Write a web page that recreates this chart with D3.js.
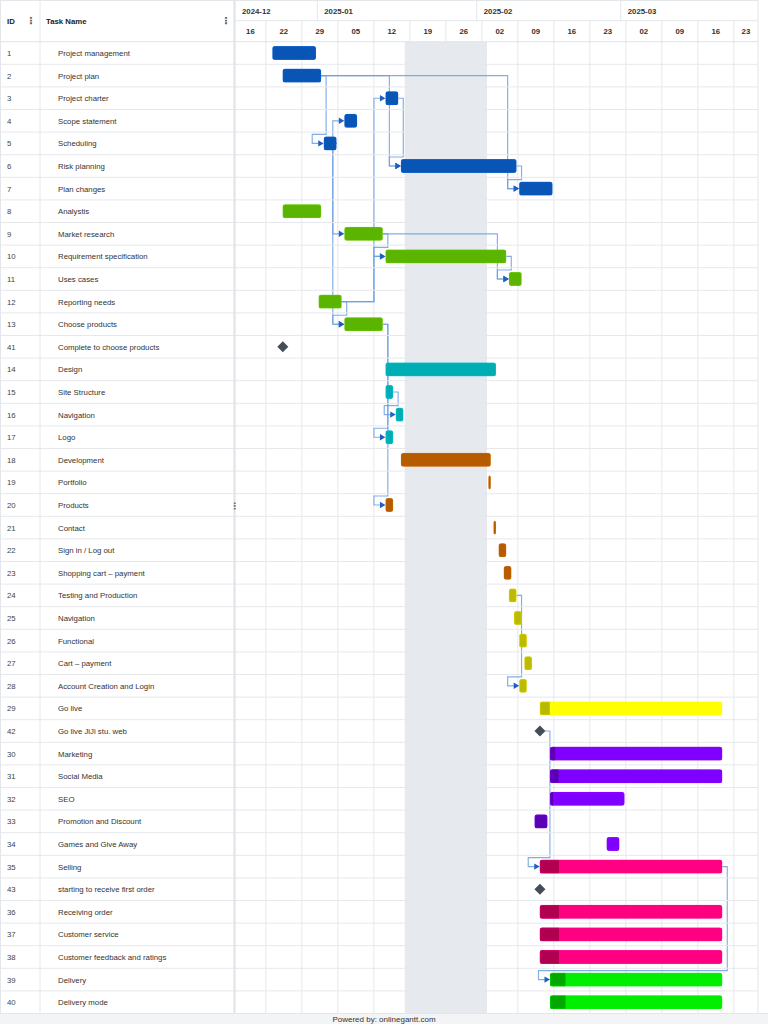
<!DOCTYPE html>
<html><head><meta charset="utf-8">
<script src="https://cdn.jsdelivr.net/npm/d3@7"></script>
<style>
body{margin:0;background:#fff}
svg{display:block;font-family:"Liberation Sans",Arial,sans-serif}
</style>
</head><body>
<svg id="chart" width="768" height="1024"></svg>
<script>
// ---------- data ----------
const taskIds = [1,2,3,4,5,6,7,8,9,10,11,12,13,41,14,15,16,17,18,19,20,21,22,23,24,25,26,27,28,29,42,30,31,32,33,34,35,43,36,37,38,39,40];
const taskNames = ["Project management","Project plan","Project charter","Scope statement","Scheduling","Risk planning","Plan changes","Analystis","Market research","Requirement specification","Uses cases","Reporting needs","Choose products","Complete to choose products","Design","Site Structure","Navigation","Logo","Development","Portfolio","Products","Contact","Sign in / Log out","Shopping cart – payment","Testing and Production","Navigation","Functional","Cart – payment","Account Creation and Login","Go live","Go live JiJi stu. web","Marketing","Social Media","SEO","Promotion and Discount","Games and Give Away","Selling","starting to receive first order","Receiving order","Customer service","Customer feedback and ratings","Delivery","Delivery mode"];
const startDates = ["2024-12-23","2024-12-25","2025-01-14","2025-01-06","2025-01-02","2025-01-17","2025-02-09","2024-12-25","2025-01-06","2025-01-14","2025-02-07","2025-01-01","2025-01-06","2024-12-25","2025-01-14","2025-01-14","2025-01-16","2025-01-14","2025-01-17","2025-02-03","2025-01-14","2025-02-04","2025-02-05","2025-02-06","2025-02-07","2025-02-08","2025-02-09","2025-02-10","2025-02-09","2025-02-13","2025-02-13","2025-02-15","2025-02-15","2025-02-15","2025-02-12","2025-02-26","2025-02-13","2025-02-13","2025-02-13","2025-02-13","2025-02-13","2025-02-15","2025-02-15"];
// inclusive end dates; null = milestone
const endDates = ["2024-12-31","2025-01-01","2025-01-16","2025-01-08","2025-01-04","2025-02-08","2025-02-15","2025-01-01","2025-01-13","2025-02-06","2025-02-09","2025-01-05","2025-01-13",null,"2025-02-04","2025-01-15","2025-01-17","2025-01-15","2025-02-03","2025-02-03","2025-01-15","2025-02-04","2025-02-06","2025-02-07","2025-02-08","2025-02-09","2025-02-10","2025-02-11","2025-02-10","2025-03-20",null,"2025-03-20","2025-03-20","2025-03-01","2025-02-14","2025-02-28","2025-03-20",null,"2025-03-20","2025-03-20","2025-03-20","2025-03-20","2025-03-20"];
const progressPct = [0,0,0,0,0,0,0,0,0,0,0,0,0,0,0,0,0,0,0,0,0,0,0,0,0,0,0,0,0,5.5,0,3,5,4,100,0,10.5,0,10.5,10.5,10.5,9,9];
const barColors = ["#0855b6","#0855b6","#0855b6","#0855b6","#0855b6","#0855b6","#0855b6","#5ab400","#5ab400","#5ab400","#5ab400","#5ab400","#5ab400","#454d58","#00adb5","#00adb5","#00adb5","#00adb5","#b65c00","#b65c00","#b65c00","#b65c00","#b65c00","#b65c00","#bdbb00","#bdbb00","#bdbb00","#bdbb00","#bdbb00","#ffff00","#454d58","#8000ff","#8000ff","#8000ff","#8000ff","#8000ff","#ff0080","#454d58","#ff0080","#ff0080","#ff0080","#00ee00","#00ee00"];
const progressColors = ["","","","","","","","","","","","","","","","","","","","","","","","","","","","","","#b9b800","","#5a00b6","#5a00b6","#5a00b6","#5a00b6","","#b0004f","","#b0004f","#b0004f","#b0004f","#00a800","#00a800"];
// dependencies: [predecessor id, successor id]
const linkFrom = [2,2,2,3,5,5,5,6,9,9,10,12,12,12,13,13,15,24,42,35];
const linkTo   = [5,6,7,6,4,9,13,7,10,11,11,3,10,13,17,20,16,28,35,39];
const monthLabels = ["2024-12","2025-01","2025-02","2025-03"];
const weekLabels = ["16","22","29","05","12","19","26","02","09","16","23","02","09","16","23"];
const shadeStart = "2025-01-18", shadeEnd = "2025-02-03";
const viewStart = "2024-12-16", viewEnd = "2025-03-28";

// ---------- layout ----------
const W = 768, H = 1024;
const leftW = 235, idColW = 40, headerH = 41.7, monthH = 20.7, tlRight = 758;
const rowsBottom = 1013.5;
const parse = d3.utcParse("%Y-%m-%d");
const dayMs = 864e5;

const x = d3.scaleUtc().domain([parse(viewStart), parse(viewEnd)]).range([leftW, leftW + 102 * 36 / 7]);
const y = d3.scaleBand().domain(d3.range(taskIds.length)).range([headerH, rowsBottom]);
const yc = i => y(i) + y.bandwidth() / 2;

const svg = d3.select("#chart");
svg.append("rect").attr("width", W).attr("height", H).attr("fill", "#fff");

const tasks = taskIds.map((id, i) => {
  const s = parse(startDates[i]);
  const ms = endDates[i] === null;
  const eEx = ms ? s : d3.utcDay.offset(parse(endDates[i]), 1);
  return {i, id, name: taskNames[i], s, eEx, ms, color: barColors[i], pc: progressColors[i], p: progressPct[i]};
});
const inset = 1.3;
const barL = t => t.ms ? x(t.s) + 1.5 - 5 : x(t.s) + inset;
const barR = t => t.ms ? x(t.s) + 1.5 + 5 : x(t.eEx) - inset;

const defs = svg.append("defs");
defs.append("clipPath").attr("id", "tlclip").append("rect")
  .attr("x", leftW).attr("y", 0).attr("width", tlRight - leftW).attr("height", H);

// ---------- timeline body ----------
const tl = svg.append("g").attr("clip-path", "url(#tlclip)");
tl.append("rect").attr("x", x(parse(shadeStart))).attr("y", headerH)
  .attr("width", x(parse(shadeEnd)) - x(parse(shadeStart))).attr("height", rowsBottom - headerH)
  .attr("fill", "#e6e9ed");

const dStart = x.domain()[0], dEnd = x.domain()[1];
const weekBounds = [dStart, ...d3.utcSunday.range(d3.utcDay.offset(dStart, 1), dEnd)];
const monthBounds = [dStart, ...d3.utcMonth.range(d3.utcDay.offset(dStart, 1), dEnd)];

tl.selectAll("line.wk").data(weekBounds.slice(1)).join("line")
  .attr("x1", d => x(d)).attr("x2", d => x(d)).attr("y1", monthH).attr("y2", rowsBottom)
  .attr("stroke", "#e7e9ed").attr("stroke-width", 1);

svg.selectAll("line.row").data(d3.range(taskIds.length)).join("line")
  .attr("x1", 0).attr("x2", tlRight).attr("y1", i => y(i) + y.bandwidth()).attr("y2", i => y(i) + y.bandwidth())
  .attr("stroke", "#e6e8ec").attr("stroke-width", 1);

// ---------- links ----------
const byId = new Map(tasks.map(t => [t.id, t]));
const linkG = tl.append("g");
linkFrom.forEach((fid, k) => {
  const s = byId.get(fid), t = byId.get(linkTo[k]);
  const ys = yc(s.i), yt = yc(t.i);
  const sx = barR(s), tx = barL(t);
  const turnX = tx - 11.5;
  const gap = (t.s - s.eEx) / dayMs;
  let p;
  if (gap >= 1) {
    p = `M${sx},${ys}H${turnX}V${yt}H${tx - 5}`;
  } else {
    const dir = yt > ys ? 1 : -1;
    p = `M${sx},${ys}H${sx + 5}V${yt - 9 * dir}H${turnX}V${yt}H${tx - 5}`;
  }
  linkG.append("path").attr("d", p).attr("fill", "none")
    .attr("stroke", "#6d9fe0").attr("stroke-opacity", 0.85).attr("stroke-width", 1.15);
  linkG.append("path").attr("d", `M${tx},${yt}L${tx - 5.5},${yt - 3.2}L${tx - 5.5},${yt + 3.2}Z`)
    .attr("fill", "#1f5fc4");
});

// ---------- bars ----------
const barH = 13.8;
const barG = tl.append("g");
tasks.forEach(t => {
  const cy = yc(t.i);
  if (t.ms) {
    const cx = x(t.s) + 1.5;
    barG.append("path").attr("d", `M${cx},${cy - 5.5}L${cx + 5.5},${cy}L${cx},${cy + 5.5}L${cx - 5.5},${cy}Z`)
      .attr("fill", t.color);
    return;
  }
  const bx = barL(t), bw = barR(t) - barL(t);
  const cid = "bc" + t.i;
  defs.append("clipPath").attr("id", cid).append("rect")
    .attr("x", bx).attr("y", cy - barH / 2).attr("width", bw).attr("height", barH).attr("rx", 2.6);
  const g = barG.append("g").attr("clip-path", `url(#${cid})`);
  g.append("rect").attr("x", bx).attr("y", cy - barH / 2).attr("width", bw).attr("height", barH)
    .attr("fill", t.color);
  if (t.p > 0) {
    g.append("rect").attr("x", bx).attr("y", cy - barH / 2).attr("width", bw * t.p / 100).attr("height", barH)
      .attr("fill", t.pc);
  }
  barG.append("rect").attr("x", bx + 0.4).attr("y", cy - barH / 2 + 0.4).attr("width", Math.max(0, bw - 0.8)).attr("height", barH - 0.8)
    .attr("rx", 2.4).attr("fill", "none").attr("stroke", d3.color(t.color).brighter(0.6)).attr("stroke-opacity", 0.45).attr("stroke-width", 0.8);
});

// ---------- timeline header ----------
const hd = svg.append("g").attr("clip-path", "url(#tlclip)");
hd.append("rect").attr("x", leftW).attr("y", 0).attr("width", tlRight - leftW).attr("height", headerH).attr("fill", "#fff");
hd.append("line").attr("x1", leftW).attr("x2", tlRight).attr("y1", monthH).attr("y2", monthH).attr("stroke", "#e3e6ea");
hd.selectAll("line.mb").data(monthBounds.slice(1)).join("line")
  .attr("x1", d => x(d)).attr("x2", d => x(d)).attr("y1", 0).attr("y2", monthH).attr("stroke", "#e3e6ea");
hd.selectAll("line.wb").data(weekBounds.slice(1)).join("line")
  .attr("x1", d => x(d)).attr("x2", d => x(d)).attr("y1", monthH).attr("y2", headerH).attr("stroke", "#e3e6ea");
hd.selectAll("text.ml").data(monthBounds).join("text")
  .attr("x", d => x(d) + 7).attr("y", 14.2).text((d, i) => monthLabels[i])
  .attr("font-size", 7.8).attr("font-weight", 700).attr("fill", "#333");
hd.selectAll("text.wl").data(weekBounds).join("text")
  .attr("x", (d, i) => (x(d) + Math.min(tlRight, x(weekBounds[i + 1] || dEnd))) / 2).attr("y", 33.6)
  .attr("text-anchor", "middle").text((d, i) => weekLabels[i])
  .attr("font-size", 7.8).attr("font-weight", 700).attr("fill", "#333");

svg.append("line").attr("x1", 0).attr("x2", tlRight).attr("y1", headerH).attr("y2", headerH).attr("stroke", "#e0e3e7");
svg.append("line").attr("x1", 0).attr("x2", tlRight).attr("y1", 0.5).attr("y2", 0.5).attr("stroke", "#e3e6ea");
svg.append("line").attr("x1", tlRight).attr("x2", tlRight).attr("y1", 0).attr("y2", rowsBottom).attr("stroke", "#e3e6ea");

// ---------- left grid ----------
const lg = svg.append("g");
lg.append("line").attr("x1", 0.5).attr("x2", 0.5).attr("y1", 0).attr("y2", rowsBottom).attr("stroke", "#e3e6ea");
lg.append("line").attr("x1", idColW).attr("x2", idColW).attr("y1", 0).attr("y2", rowsBottom).attr("stroke", "#e6e8ec");
lg.append("rect").attr("x", leftW - 1.5).attr("y", 0).attr("width", 2).attr("height", rowsBottom).attr("fill", "#dfe2e7");
lg.append("text").attr("x", 7).attr("y", 23.8).text("ID").attr("font-size", 7.8).attr("font-weight", 700).attr("fill", "#222");
lg.append("text").attr("x", 46).attr("y", 23.8).text("Task Name").attr("font-size", 7.8).attr("font-weight", 700).attr("fill", "#222");
[31, 226].forEach(xx => lg.append("text").attr("x", xx).attr("y", 23.5).attr("text-anchor", "middle")
  .text("⋮").attr("font-size", 10).attr("font-weight", 700).attr("fill", "#555").attr("font-family", "DejaVu Sans"));
lg.append("text").attr("x", leftW - 0.5).attr("y", 508.5).attr("text-anchor", "middle")
  .text("⋮").attr("font-size", 9).attr("font-weight", 700).attr("fill", "#666").attr("font-family", "DejaVu Sans");
lg.selectAll("text.id").data(tasks).join("text")
  .attr("x", 7).attr("y", t => yc(t.i) + 2.9).text(t => t.id)
  .attr("font-size", 7.8).attr("fill", "#444");
lg.selectAll("text.nm").data(tasks).join("text")
  .attr("x", 58).attr("y", t => yc(t.i) + 2.9).text(t => t.name)
  .attr("font-size", 7.8).attr("fill", "#333");

// ---------- footer ----------
svg.append("rect").attr("x", 0).attr("y", rowsBottom).attr("width", W).attr("height", H - rowsBottom).attr("fill", "#f3f4f6");
svg.append("line").attr("x1", 0).attr("x2", W).attr("y1", rowsBottom).attr("y2", rowsBottom).attr("stroke", "#e3e6ea");
svg.append("text").attr("x", 384).attr("y", 1021.8).attr("text-anchor", "middle")
  .text("Powered by: onlinegantt.com").attr("font-size", 8).attr("fill", "#333");
</script>
</body></html>
